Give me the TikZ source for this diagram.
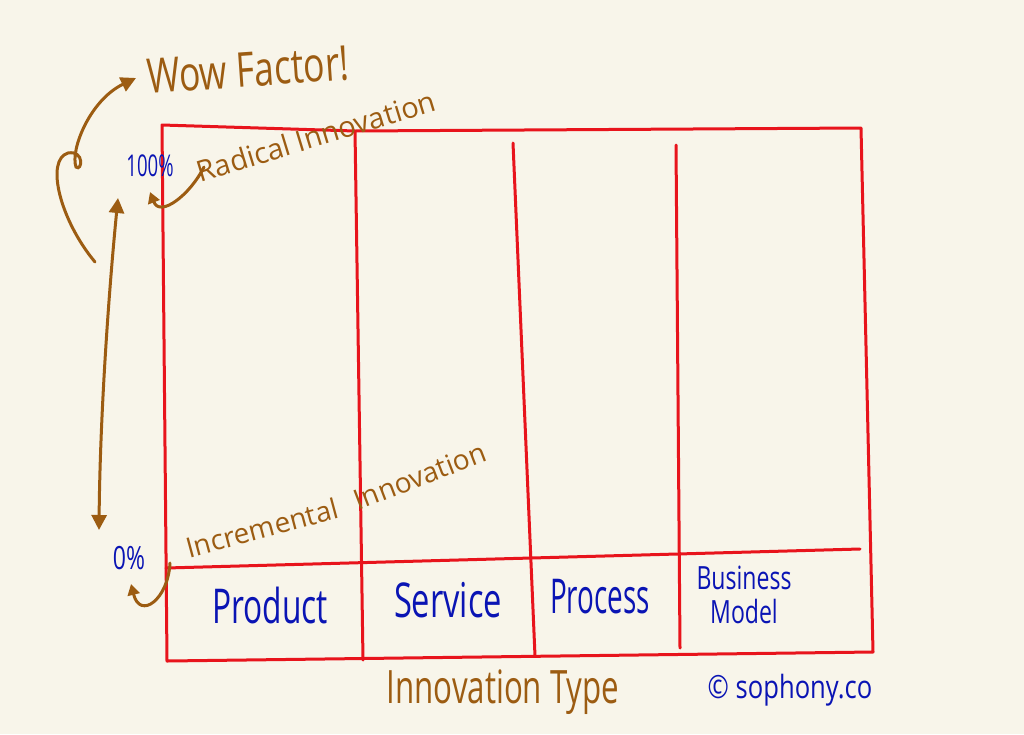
\documentclass[tikz,border=0pt]{standalone}
\usepackage{fontspec}
\usepackage{graphicx}
\setmainfont{Open Sans}
\usetikzlibrary{arrows.meta}
\definecolor{bg}{HTML}{F8F5EA}
\definecolor{gridred}{HTML}{E8141C}
\definecolor{ink}{HTML}{0A14B4}
\definecolor{brownink}{HTML}{9C5C12}
\newcommand{\hsq}[2]{\scalebox{#1}[1]{#2}}
\begin{document}
\begin{tikzpicture}[x=1pt,y=1pt,
  grid/.style={gridred, line width=3pt, line cap=round, line join=round},
  lbl/.style={ink, inner sep=0pt},
  ann/.style={brownink, inner sep=0pt},
  arr/.style={brownink, line width=3pt, line cap=round},
  bighead/.style={-{Triangle[length=15pt,width=15pt]}},
  smallhead/.style={-{Triangle[length=11pt,width=12pt]}},
]
\fill[bg] (0,0) rectangle (1024,-734);
\useasboundingbox (0,0) rectangle (1024,-734);

% grid corners and crossings
\coordinate (tl) at (162,-125);
\coordinate (tr) at (861,-128);
\coordinate (bl) at (167,-661);
\coordinate (br) at (873,-652);
\coordinate (ml) at (166,-568);
\coordinate (mr) at (860,-549);
\coordinate (v1t) at (355,-131);
\coordinate (v1b) at (363,-660);
\coordinate (v2t) at (513,-143);
\coordinate (v2b) at (535,-656);
\coordinate (v3t) at (676,-145);
\coordinate (v3b) at (680,-648);

\draw[grid] (tl) -- (v1t) -- (tr) -- (br) -- (bl) -- cycle;
\draw[grid] (ml) -- (mr);
\draw[grid] (v1t) -- (v1b);
\draw[grid] (v2t) -- (v2b);
\draw[grid] (v3t) -- (v3b);

% texts
\node[ann, font=\fontsize{48}{48}\selectfont, rotate=4] (wow) at (248,-70) {\hsq{0.74}{Wow Factor!}};
\node[ann, font=\fontsize{29}{29}\selectfont, rotate=17] (radical) at (316,-136) {Radical Innovation};
\node[ann, font=\fontsize{28}{28}\selectfont, rotate=15] (incr1) at (262,-528) {Incremental};
\node[ann, font=\fontsize{28}{28}\selectfont, rotate=21] (incr2) at (420,-476) {Innovation};
\node[lbl, font=\fontsize{30}{30}\selectfont] (p100) at (150,-166) {\hsq{0.62}{100\%}};
\node[lbl, font=\fontsize{32}{32}\selectfont] (p0) at (129,-558) {\hsq{0.72}{0\%}};

\node[lbl, font=\fontsize{48}{48}\selectfont] (product) at (270,-605) {\hsq{0.66}{Product}};
\node[lbl, font=\fontsize{48}{48}\selectfont] (service) at (448,-600) {\hsq{0.68}{Service}};
\node[lbl, font=\fontsize{48}{48}\selectfont] (process) at (600,-597) {\hsq{0.58}{Process}};
\node[lbl, font=\fontsize{32}{34}\selectfont, align=center] (business) at (744,-595) {\hsq{0.72}{Business}\\\hsq{0.72}{Model}};

\node[ann, font=\fontsize{46}{46}\selectfont] (type) at (503,-692) {\hsq{0.68}{Innovation Type}};
\node[lbl, font=\fontsize{32}{32}\selectfont] (copy) at (790,-690) {\hsq{0.8}{© sophony.co}};

% arrows
\coordinate (ha) at (118,-198);
\coordinate (hb) at (99,-530);
\draw[arr, {Triangle[length=15pt,width=15pt]}-{Triangle[length=15pt,width=15pt]}] (ha) .. controls (108,-300) and (100,-420) .. (hb);

\coordinate (ws) at (95,-262);
\coordinate (we) at (136,-78);
\draw[arr, bighead] (ws) .. controls (60,-220) and (45,-160) .. (68,-153)
  .. controls (85,-150) and (82,-172) .. (76,-167)
  .. controls (70,-150) and (90,-100) .. (we);

\coordinate (rs) at (204,-167);
\coordinate (re) at (150,-192);
\draw[arr, smallhead] (rs) .. controls (190,-195) and (160,-218) .. (re);

\coordinate (is) at (170,-563);
\coordinate (ie) at (131,-584);
\draw[arr, smallhead] (is) .. controls (168,-600) and (140,-620) .. (ie);
\end{tikzpicture}
\end{document}
